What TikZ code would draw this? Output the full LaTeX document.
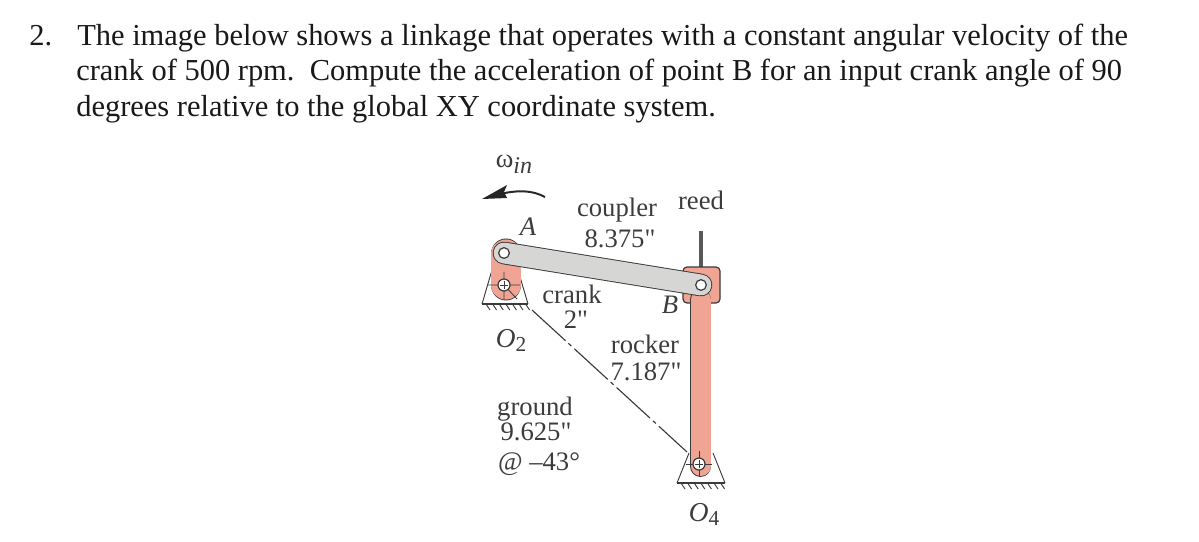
\documentclass[tikz,border=0pt]{standalone}
\usepackage{fontspec}
\setmainfont{Liberation Serif}
\newfontfamily\plainserif{Liberation Serif}
\definecolor{salmon}{HTML}{F0A594}
\definecolor{link}{HTML}{D6D6D4}
\definecolor{edge}{HTML}{3A3A3A}
\definecolor{figtext}{HTML}{3C3C3C}
\newcommand{\qt}{{\plainserif"}}
\begin{document}
\begin{tikzpicture}[x=0.75pt,y=-0.75pt,
  para/.style={anchor=base west,inner sep=0pt,font=\fontsize{22.85}{26}\selectfont,text=black!90},
  lab/.style={inner sep=0pt,anchor=base,font=\fontsize{20}{22}\selectfont,text=figtext},
  labi/.style={lab,font=\fontsize{20}{22}\itshape\selectfont},
  part/.style={draw=edge,line width=0.9pt},
  thin/.style={draw=edge,line width=0.7pt},
  pin/.style={circle,draw=edge,fill=white,line width=0.9pt,minimum size=8pt,inner sep=0pt}]
\useasboundingbox (0,0) rectangle (1199,542);
% text
\node[para] (q0) at (29,46) {2.};
\node[para] (q1) at (77,46) {The image below shows a linkage that operates with a constant angular velocity of the};
\node[para] (q2) at (76,81) {crank of 500 rpm.\ \ Compute the acceleration of point B for an input crank angle of 90};
\node[para] (q3) at (76,116) {degrees relative to the global XY coordinate system.};
% positions
\coordinate (O2) at (504,285);
\coordinate (A) at (504,253);
\coordinate (B) at (701,285);
\coordinate (O4) at (699,464);
\coordinate (Ac) at (506,254);
\coordinate (O2c) at (506,285);
\coordinate (Rt) at (700.5,300);
\coordinate (Rb) at (700.5,466);
% dashed ground line
\draw[edge,line width=0.85pt,dash pattern=on 34pt off 3pt on 3pt off 3pt] (532,310) -- (687,452);
% O2 support
\draw[thin] (482,304) -- (492,270) (528,304) -- (518,270);
% O4 support
\draw[thin] (677,483) -- (689,453) (725,483) -- (713,453);
% crank
\draw[edge,line width=23.2pt,line cap=round] (Ac) -- (O2c);
\draw[salmon,line width=21.8pt,line cap=round] (Ac) -- (O2c);
% reed
\draw[draw=none,fill=edge!85] (699,231) rectangle (703,272);
% rocker
\draw[part,fill=salmon,rounded corners=3pt] (683,267) rectangle (720,303);
\draw[edge,line width=16.4pt,line cap=round] (Rt) -- (Rb);
\draw[salmon,line width=15pt,line cap=round] (Rt) -- (Rb);
\draw[draw=edge,line width=0.6pt] (699,451) -- (699,477) (686,464) -- (712,464);
% crank cross hairs
\draw[draw=edge,line width=0.6pt] (504,272) -- (504,299) (488,285) -- (520,285) (504,285) -- (517,299);
% coupler
\draw[edge,line width=17pt,line cap=round] (A) -- (B);
\draw[link,line width=15.6pt,line cap=round] (A) -- (B);
% pins
\node[pin] (pA) at (A) {};
\node[pin] (pB) at (B) {};
\node[pin,minimum size=9pt] (pO2) at (O2) {};
\node[pin,minimum size=9pt] (pO4) at (O4) {};
\draw[edge,line width=0.5pt] (500,285) -- (508,285) (504,281) -- (504,289) (695,464) -- (703,464) (699,460) -- (699,468);
% ground lines and hatches
\draw[part] (482,304) -- (528,304);
\draw[part] (677,483) -- (725,483);
\foreach \i in {0,...,6} {
  \draw[thin] ({486+6.6*\i},304) -- ++(4,6);
  \draw[thin] ({681+6.6*\i},483) -- ++(4,6);
}
% omega arrow
\draw[edge!70!black,line width=1.5pt] (545,197) .. controls (532,190) and (518,190) .. (500,194);
\fill[black!85] (482,199) -- (507,185) -- (504,192) -- (507,198) -- cycle;
% labels
\node[lab] (wlab) at (514,167) {ω\raisebox{-5pt}{\itshape\fontsize{18}{20}\selectfont in}};
\node[labi] (Alab) at (528,235) {A};
\node[labi] (Blab) at (670,313) {B};
\node[lab] (coup1) at (617,216) {coupler};
\node[lab] (coup2) at (620,247) {8.375\qt};
\node[lab] (reed) at (701,209) {reed};
\node[lab] (cr1) at (572,303) {crank};
\node[lab] (cr2) at (576,328) {2\qt};
\node[lab] (ro1) at (645,353) {rocker};
\node[lab] (ro2) at (646,380) {7.187\qt};
\node[lab] (gr1) at (535,415) {ground};
\node[lab] (gr2) at (536,440) {9.625\qt};
\node[lab] (gr3) at (539,470) {@ --43°};
\node[labi] (o2) at (511,347) {\fontsize{20.5}{24}\selectfont O\raisebox{-3pt}{\upshape\fontsize{16}{18}\selectfont 2}};
\node[labi] (o4) at (704,521) {\fontsize{20.5}{24}\selectfont O\raisebox{-3pt}{\upshape\fontsize{16}{18}\selectfont 4}};
\end{tikzpicture}
\end{document}
